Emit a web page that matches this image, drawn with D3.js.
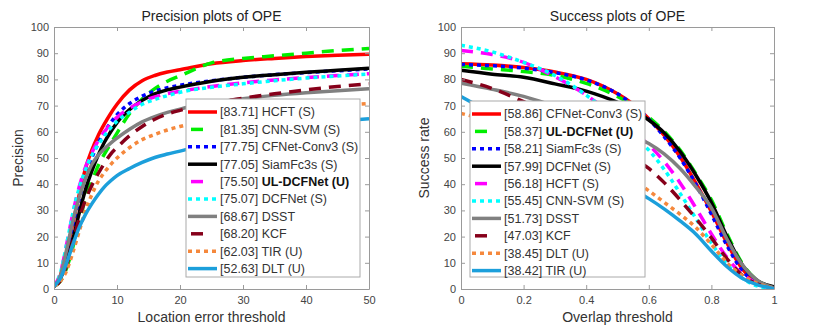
<!DOCTYPE html>
<html>
<head>
    <meta charset="utf-8">
    <title>OPE plots</title>
    <script src="https://d3js.org/d3.v7.min.js"></script>
    <style>
      body { margin: 0; background: #fff; }
      svg text { font-family: "Liberation Sans", Arial, sans-serif; }
    </style>
</head>

<body>

<div id="my_dataviz"></div>

<script>

// ---------- precision plot data (location error threshold, px) ----------
var precX = [0,1,2,3,4,5,6,7,8,9,10,12,14,16,18,20,25,30,35,40,45,50];

var precHCFT    = [1,5,14,25,36,46,53,58.5,63,67,70.5,76,79.5,81.5,82.8,83.7,86,87.2,88,88.7,89.2,89.6];
var precCNNSVM  = [1,3,8,16,25,35,41,47,51.5,55.5,59.5,67,72.5,76.5,79.3,81.35,86.3,88,89,90,91,91.8];
var precCFNet   = [1,5,13,24,34,43,50,55.5,60,63.5,66.5,70.8,73.6,75.5,76.8,77.75,79.5,80.8,81.8,82.6,83.3,84];
var precSiamFc  = [1,4,10,19,29,38,45,51,56,60,63.5,68.5,72,74.5,76,77.05,79.3,80.8,81.8,82.7,83.5,84.3];
var precULDCF   = [1,6,17,29,39,46.5,52,56.5,60,63,65.5,69,71.5,73.3,74.6,75.5,77.3,78.7,79.8,80.7,81.5,82.2];
var precDCFNet  = [1,6,17,29,38.5,45.5,51,55,58.5,61.5,64,67.5,70.5,72.3,73.8,75.07,77,78.3,79.5,80.5,81.3,82];
var precDSST    = [1,5,15,26,35,42,47.5,51,53.5,55.7,57.6,61,63.8,65.8,67.4,68.67,70.9,72.6,73.9,74.9,75.7,76.4];
var precKCF     = [1,3,9,18,27,34,39.5,44,48,51.5,54,58.5,62,64.8,66.8,68.2,70.8,72.8,74.5,76,77.3,78.3];
var precTIR     = [1,3,7,14,22,30,36,41,44.5,47.5,50,54,57,59,60.7,62.03,64.5,66.3,67.8,69,70,70.8];
var precDLT     = [1,4,10,17,23.5,28.5,32.5,36,39,41.3,43.3,46,48.3,50.2,51.5,52.63,55.8,58.5,60.8,62.6,64,65];

var precNames  = ["HCFT (S)","CNN-SVM (S)","CFNet-Conv3 (S)","SiamFc3s (S)","UL-DCFNet (U)",
                  "DCFNet (S)","DSST","KCF","TIR (U)","DLT (U)"];
var precScores = [83.71,81.35,77.75,77.05,75.50,75.07,68.67,68.20,62.03,52.63];
var precSeries = [precHCFT,precCNNSVM,precCFNet,precSiamFc,precULDCF,precDCFNet,precDSST,precKCF,precTIR,precDLT];

// ---------- success plot data (overlap threshold) ----------
var succX = [0,0.1,0.2,0.3,0.4,0.5,0.55,0.6,0.65,0.7,0.75,0.8,0.85,0.9,0.95,1];

var succCFNet   = [86,85.5,84.5,82.8,80,74.5,70.5,65,58.5,50.5,40.5,29.5,17.5,7.5,2.5,0.5];
var succULDCF   = [85,84,83,81.5,78.5,73.5,70,65.5,60,53,44,34,21,9.5,3,0.6];
var succSiamFc  = [85.7,85.2,84.3,82.6,79.8,74.5,70.3,64.8,58,50,40,28.5,16.5,6.8,2.2,0.4];
var succDCFNet  = [83.5,82,80.8,78.3,75.5,71.2,68.3,64.5,59.5,52.5,43.5,33,20,9,3,0.8];
var succHCFT    = [91,89.5,86.5,81,74,65,60,55,48.5,40.5,31,21,12,5.5,2,0.3];
var succCNNSVM  = [93,90.5,86.5,81.5,74,64,58.5,53,45.5,36.5,27,17.5,9.5,4,1,0];
var succDSST    = [78.5,76.2,73.5,69.8,66,61.5,58.5,55.5,51.5,46,39,31,19,9,3,0.5];
var succKCF     = [80,76.5,71.5,66,60,53.5,50,46,40.5,34,27,19.5,11.5,5,1.8,0.3];
var succDLT     = [67,64,60.5,56,51,45,41.5,37.5,33,28.5,23.5,17,10,5,2,0.3];
var succTIR     = [73.5,67,61,54.5,48,41.5,38,34.5,30.5,26,21,14.5,8.5,4,1.5,0.2];

var succNames  = ["CFNet-Conv3 (S)","UL-DCFNet (U)","SiamFc3s (S)","DCFNet (S)","HCFT (S)",
                  "CNN-SVM (S)","DSST","KCF","DLT (U)","TIR (U)"];
var succScores = [58.86,58.37,58.21,57.99,56.18,55.45,51.73,47.03,38.45,38.42];
var succSeries = [succCFNet,succULDCF,succSiamFc,succDCFNet,succHCFT,succCNNSVM,succDSST,succKCF,succDLT,succTIR];

// tick labels
var yTicks     = [0,10,20,30,40,50,60,70,80,90,100];
var precXTicks = [0,10,20,30,40,50];
var succXTicks = [0,0.2,0.4,0.6,0.8,1];

// line styles follow the legend rank
var lineColors = ["#ff0000","#00ee00","#0000ff","#000000","#ff00ff","#00ffff","#808080","#86001a","#f5883c","#1c9fdb"];
var lineDash   = [null,"12,8","4,4",null,"12,8","4,4",null,"12,8","4,4",null];

var svg = d3.select("#my_dataviz")
  .append("svg")
    .attr("width", 818)
    .attr("height", 329);

function styleAxis(sel) {
  sel.select(".domain").attr("stroke", "#9a9a9a");
  sel.selectAll(".tick line").attr("stroke", "#9a9a9a");
  sel.selectAll(".tick text")
    .attr("fill", "#444")
    .style("font-size", "11px")
    .style("font-family", "'Liberation Sans', Arial, sans-serif");
}

function drawPanel(p) {
  var g = svg.append("g");

  var x = d3.scaleLinear().domain(p.xDomain).range([p.left, p.right]);
  var y = d3.scaleLinear().domain([0, 100]).range([p.bottom, p.top]);

  g.append("clipPath")
    .attr("id", p.id + "-clip")
    .append("rect")
      .attr("x", p.left).attr("y", p.top)
      .attr("width", p.right - p.left).attr("height", p.bottom - p.top);

  // the curves, drawn in legend order
  var line = d3.line()
    .x(function(d) { return x(d[0]); })
    .y(function(d) { return y(d[1]); })
    .curve(d3.curveMonotoneX);

  p.series.forEach(function(vals, i) {
    g.append("path")
      .datum(vals.map(function(v, k) { return [p.xs[k], v]; }))
      .attr("clip-path", "url(#" + p.id + "-clip)")
      .attr("fill", "none")
      .attr("stroke", lineColors[i])
      .attr("stroke-width", 3.5)
      .attr("stroke-dasharray", lineDash[i])
      .attr("d", line);
  });

  // box axes with inward ticks
  g.append("g")
    .attr("transform", "translate(0," + p.bottom + ")")
    .call(d3.axisBottom(x).tickValues(p.xTicks).tickFormat(function(d) { return String(d); })
      .tickSizeInner(-4).tickSizeOuter(0).tickPadding(7))
    .call(styleAxis);
  g.append("g")
    .attr("transform", "translate(0," + p.top + ")")
    .call(d3.axisTop(x).tickValues(p.xTicks).tickFormat("").tickSizeInner(-4).tickSizeOuter(0))
    .call(styleAxis);
  g.append("g")
    .attr("transform", "translate(" + p.left + ",0)")
    .call(d3.axisLeft(y).tickValues(yTicks).tickSizeInner(-4).tickSizeOuter(0).tickPadding(5))
    .call(styleAxis);
  g.append("g")
    .attr("transform", "translate(" + p.right + ",0)")
    .call(d3.axisRight(y).tickValues(yTicks).tickFormat("").tickSizeInner(-4).tickSizeOuter(0))
    .call(styleAxis);

  // title and axis labels
  var cx = (p.left + p.right) / 2, cy = (p.top + p.bottom) / 2;
  g.append("text")
    .attr("x", cx).attr("y", 21)
    .attr("text-anchor", "middle")
    .style("font-size", "14px").attr("fill", "#222")
    .text(p.title);
  g.append("text")
    .attr("x", cx).attr("y", 322)
    .attr("text-anchor", "middle")
    .style("font-size", "14px").attr("fill", "#333")
    .text(p.xLabel);
  g.append("text")
    .attr("transform", "translate(" + p.yLabelX + "," + cy + ") rotate(-90)")
    .attr("text-anchor", "middle")
    .style("font-size", "14px").attr("fill", "#333")
    .text(p.yLabel);

  // legend
  var lg = g.append("g");
  lg.append("rect")
    .attr("x", p.legX).attr("y", p.legY)
    .attr("width", p.legW).attr("height", p.legH)
    .attr("fill", "#fff").attr("stroke", "#aaa");

  p.names.forEach(function(name, i) {
    var ry = p.legY + 13 + i * 17.4;
    var dashed = lineDash[i] == "12,8";
    lg.append("line")
      .attr("x1", p.legX + 2).attr("x2", p.legX + 31)
      .attr("y1", ry).attr("y2", ry)
      .attr("stroke", lineColors[i])
      .attr("stroke-width", 3.5)
      .attr("stroke-dasharray", dashed ? "12,40" : lineDash[i])
      .attr("stroke-dashoffset", dashed ? -3 : 0);
    var bold = name.indexOf("UL-DCFNet") == 0;
    var t = lg.append("text")
      .attr("x", p.legX + 34).attr("y", ry)
      .attr("dy", "0.35em")
      .style("font-size", "12.5px").attr("fill", "#333");
    t.append("tspan").text("[" + p.scores[i].toFixed(2) + "] ");
    t.append("tspan")
      .style("font-weight", bold ? "bold" : "normal")
      .attr("fill", bold ? "#111" : "#333")
      .text(name);
  });
}

drawPanel({
  id: "prec", left: 54, right: 369, top: 27, bottom: 289,
  xDomain: [0, 50], xs: precX, xTicks: precXTicks, series: precSeries,
  names: precNames, scores: precScores,
  title: "Precision plots of OPE", xLabel: "Location error threshold", yLabel: "Precision", yLabelX: 23,
  legX: 186, legY: 99, legW: 174, legH: 178
});

drawPanel({
  id: "succ", left: 461, right: 774, top: 27, bottom: 289,
  xDomain: [0, 1], xs: succX, xTicks: succXTicks, series: succSeries,
  names: succNames, scores: succScores,
  title: "Success plots of OPE", xLabel: "Overlap threshold", yLabel: "Success rate", yLabelX: 429,
  legX: 470, legY: 101, legW: 175, legH: 176
});

</script>

</body>

</html>
